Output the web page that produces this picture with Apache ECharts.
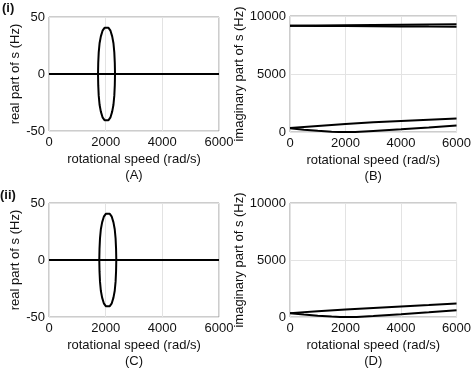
<!DOCTYPE html>
<html>
<head>
<meta charset="utf-8">
<script src="https://cdn.jsdelivr.net/npm/echarts@6/dist/echarts.min.js"></script>
<style>
html,body{margin:0;padding:0;background:#fff;}
#c{width:474px;height:370px;}
</style>
</head>
<body>
<div id="c"></div>
<script>
// ---- data ----
const xTicks = [0, 2000, 4000, 6000];
const realTicks = [-50, 0, 50];
const imagTicks = [0, 5000, 10000];

// real part zero line (A, C)
const zeroX = [0, 6000];
const zeroY = [0, 0];

// closed loop of real part (A)
const loopAx = [1730,1738,1755,1785,1830,1890,1960,2030,2100,2170,2230,2275,2305,2322,2330,2322,2305,2275,2230,2170,2100,2030,1960,1890,1830,1785,1755,1738,1730];
const loopAy = [0,10,19,27,33,38,40.5,41,40.5,38,33,27,19,10,0,-10,-19,-27,-33,-38,-40.5,-41,-40.5,-38,-33,-27,-19,-10,0];
// closed loop of real part (C)
const loopCx = [1775,1783,1800,1830,1875,1935,2005,2075,2145,2215,2275,2320,2350,2367,2375,2367,2350,2320,2275,2215,2145,2075,2005,1935,1875,1830,1800,1783,1775];
const loopCy = [0,10,19,27,33,38,40.5,41.5,40.5,38,33,27,19,10,0,-10,-19,-27,-33,-38,-40.5,-41.5,-40.5,-38,-33,-27,-19,-10,0];

// imaginary part (B)
const hiX = [0,1000,2000,3000,4000,5000,6000];
const hiUpperB = [9170,9180,9195,9215,9240,9265,9290];
const hiLowerB = [9150,9140,9130,9115,9105,9090,9080];
const fwdX = [0,1000,2000,3000,4000,5000,6000];
const fwdB = [350,520,690,830,950,1060,1170];
const bwdXB = [0,500,1000,1500,1750,2350,3000,4000,5000,6000];
const bwdB = [320,200,100,30,0,0,90,230,390,560];

// imaginary part (D)
const fwdD = [340,500,660,800,930,1050,1180];
const bwdXD = [0,500,1000,1500,1800,2400,3000,4000,5000,6000];
const bwdD = [330,210,110,35,0,0,90,250,420,600];

// ---- chart ----
const pairs = (xs, ys) => xs.map((x, i) => [x, ys[i]]);
const FONT = 'Liberation Sans, Arial, sans-serif';
const TXT = '#111';
const plain = v => String(v);

const grids = [
  {left: 49, top: 17, width: 170, height: 114},
  {left: 290, top: 16, width: 170, height: 116},
  {left: 49, top: 203, width: 170, height: 115},
  {left: 290, top: 203, width: 170, height: 116}
].map(g => Object.assign({show: true, borderColor: '#9a9a9a', borderWidth: 1, containLabel: false}, g));

const panelNames = ['(A)', '(B)', '(C)', '(D)'];
const xAxes = grids.map((g, i) => ({
  type: 'value', gridIndex: i, min: xTicks[0], max: xTicks[xTicks.length - 1], interval: 2000,
  axisLine: {show: false}, axisTick: {show: false},
  axisLabel: {color: TXT, fontFamily: FONT, fontSize: 13, margin: 5, formatter: plain},
  splitLine: {show: true, lineStyle: {color: '#e3e3e3', width: 1}},
  name: 'rotational speed (rad/s)\n' + panelNames[i],
  nameLocation: 'middle', nameGap: 20,
  nameTextStyle: {color: TXT, fontFamily: FONT, fontSize: 13, lineHeight: 16}
}));

const yAxes = grids.map((g, i) => {
  const real = (i % 2 === 0);
  return {
    type: 'value', gridIndex: i,
    min: real ? realTicks[0] : imagTicks[0],
    max: real ? realTicks[2] : imagTicks[2],
    interval: real ? 50 : 5000,
    axisLine: {show: false}, axisTick: {show: false},
    axisLabel: {color: TXT, fontFamily: FONT, fontSize: 13, margin: 4, formatter: plain},
    splitLine: {show: true, lineStyle: {color: '#e3e3e3', width: 1}},
    name: real ? 'real part of s (Hz)' : 'imaginary part of s (Hz)',
    nameLocation: 'middle', nameGap: real ? 25 : 40, nameRotate: 90,
    nameTextStyle: {color: TXT, fontFamily: FONT, fontSize: 13}
  };
});

const line = (idx, xs, ys) => ({
  type: 'line', xAxisIndex: idx, yAxisIndex: idx, data: pairs(xs, ys),
  showSymbol: false, symbol: 'none', smooth: false, animation: false,
  lineStyle: {color: '#000', width: 2}
});

const series = [
  line(0, zeroX, zeroY),
  line(0, loopAx, loopAy),
  line(1, hiX, hiUpperB),
  line(1, hiX, hiLowerB),
  line(1, fwdX, fwdB),
  line(1, bwdXB, bwdB),
  line(2, zeroX, zeroY),
  line(2, loopCx, loopCy),
  line(3, fwdX, fwdD),
  line(3, bwdXD, bwdD)
];

const chart = echarts.init(document.getElementById('c'), null, {renderer: 'canvas'});
chart.setOption({
  animation: false,
  backgroundColor: '#fff',
  grid: grids,
  xAxis: xAxes,
  yAxis: yAxes,
  series: series,
  graphic: [
    {type: 'text', left: 2, top: 2, style: {text: '(i)', fill: TXT, font: 'bold 13px ' + FONT}},
    {type: 'text', left: 0, top: 189, style: {text: '(ii)', fill: TXT, font: 'bold 13px ' + FONT}}
  ]
});
</script>
</body>
</html>
